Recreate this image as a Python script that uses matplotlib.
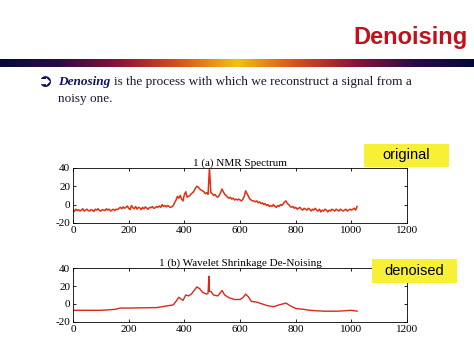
import matplotlib
matplotlib.use("Agg")
import matplotlib.pyplot as plt
import numpy as np
from matplotlib.colors import LinearSegmentedColormap
from matplotlib.patches import Rectangle

plt.rcParams["axes.unicode_minus"] = False

y_orig = [-6, -7.5, -5, -6.5, -5.5, -7, -6, -4.5, -7, -6,
          -5, -6.5, -7, -5.5, -6, -7.5, -5, -6, -4.5, -6.5,
          -7, -5.5, -6, -6.5, -4.5, -6, -5, -7, -6, -5,
          -6.5, -5, -5.5, -4, -3, -4.5, -2.5, -4, -3, -1.5,
          -4, -5.5, -1, -3.5, -4.5, -2, -5, -3, -3.5, -5.5,
          -3, -4.5, -2.5, -4, -5, -3, -3.5, -2, -4, -3.5,
          -2, -3, -1.5, -3, 0, -2, -1, -2.5, -1, -2,
          -3, -2.5, -1, 2, 5, 9, 7, 10, 6, 4,
          11, 14, 8, 9, 10, 12, 13, 15, 18, 20,
          19, 17, 16, 15, 14, 12, 13, 11, 40, 13,
          12, 10, 11, 9, 8, 10, 13, 17, 14, 11,
          10, 8, 7, 8, 6, 7, 5, 6, 5, 6,
          5, 4, 6, 9, 15, 12, 9, 6, 5, 4,
          4, 3, 4, 2, 3, 1, 2, 0, 1, -1,
          0, -2, -1, -2, 0, -2, -3, -1, -2, 0,
          -1, 1, 3, 4, 1, 0, -2, -3, -2, -4,
          -3, -5, -4, -3, -5, -6, -4, -5, -6, -4,
          -5, -7, -5, -6, -4, -6, -7, -5, -8, -6,
          -7, -5, -6, -8, -6, -7, -5, -6, -7, -5,
          -6, -7, -5, -6, -7, -6, -5, -7, -6, -5,
          -6, -5, -4, -6, -2]
x_orig = np.arange(len(y_orig)) * 5

# wavelet shrinkage de-noised result
x_den = [0, 100, 150, 170, 200, 300, 340, 360, 370, 380,
         390, 395, 405, 415, 425, 445, 455, 465, 480, 485,
         488, 490, 495, 505, 520, 535, 545, 560, 580, 600,
         610, 620, 630, 640, 660, 680, 700, 720, 740, 765,
         780, 800, 830, 850, 900, 950, 1000, 1020]
y_den = [-7, -7, -6, -4.5, -4.5, -4, -2, -1, 3, 7.5,
         5, 4, 10, 9, 11, 19, 17, 13, 11, 12,
         31, 14, 14, 10, 9, 15, 10, 7, 5, 5,
         7, 11, 8, 3, 2, 0, -2, -3, -1, 1,
         -2, -5, -6, -7, -8, -8, -7, -8]

title_top = "1 (a) NMR Spectrum"
title_bot = "1 (b) Wavelet Shrinkage De-Noising"

fig = plt.figure(figsize=(4.74, 3.55), dpi=100)
fig.patch.set_facecolor("white")

# header
fig.text(0.987, 0.895, "Denoising", ha="right", va="center", fontsize=17,
         fontweight="bold", family="Liberation Sans", color="#c2111b")

bar = fig.add_axes([0, 0.811, 1, 0.023])
cmap = LinearSegmentedColormap.from_list(
    "bar", ["#06083a", "#2a0c45", "#8a1438", "#d8501c", "#f4c010",
            "#d8501c", "#8a1438", "#2a0c45", "#06083a"])
bar.imshow(np.linspace(0, 1, 400)[None, :], aspect="auto", cmap=cmap)
bar.axis("off")

# bullet text
fig.text(0.095, 0.768, "\u27B2", fontsize=13, color="#101050",
         family="DejaVu Sans", fontweight="bold", va="center", ha="center")
fig.text(0.122, 0.768, "Denosing", fontsize=9.5, color="#141464",
         family="Liberation Serif", fontweight="bold", style="italic", va="center")
fig.text(0.241, 0.768, "is the process with which we reconstruct a signal from a",
         fontsize=9.5, color="#1a1a30", family="Liberation Serif", va="center")
fig.text(0.122, 0.721, "noisy one.", fontsize=9.5, color="#1a1a30",
         family="Liberation Serif", va="center")


def style(ax, title):
    ax.set_xlim(0, 1200)
    ax.set_ylim(-20, 40)
    ax.set_xticks([0, 200, 400, 600, 800, 1000, 1200])
    ax.set_yticks([-20, 0, 20, 40])
    ax.tick_params(direction="in", top=True, right=True, length=2.5,
                   labelsize=8, pad=2, width=0.6)
    for lab in ax.get_xticklabels() + ax.get_yticklabels():
        lab.set_family("Liberation Serif")
    for s in ax.spines.values():
        s.set_linewidth(0.6)
    ax.set_title(title, fontsize=8, family="Liberation Serif", pad=1.5)


ax1 = fig.add_axes([0.154, 0.372, 0.705, 0.155])
ax1.plot(x_orig, y_orig, color="#e03010", lw=1.1)
style(ax1, title_top)

ax2 = fig.add_axes([0.154, 0.093, 0.705, 0.152])
ax2.plot(x_den, y_den, color="#d82a1a", lw=1.0)
style(ax2, title_bot)

# yellow labels
for (x0, y0, w, h, txt) in [(0.768, 0.530, 0.179, 0.065, "original"),
                            (0.785, 0.203, 0.179, 0.068, "denoised")]:
    fig.patches.append(Rectangle((x0, y0), w, h, transform=fig.transFigure,
                                 facecolor="#f8f035", edgecolor="none", zorder=5))
    fig.text(x0 + w / 2, y0 + h / 2, txt, ha="center", va="center",
             fontsize=10.5, family="Liberation Sans", zorder=6)

fig.savefig("out.png", dpi=100)
